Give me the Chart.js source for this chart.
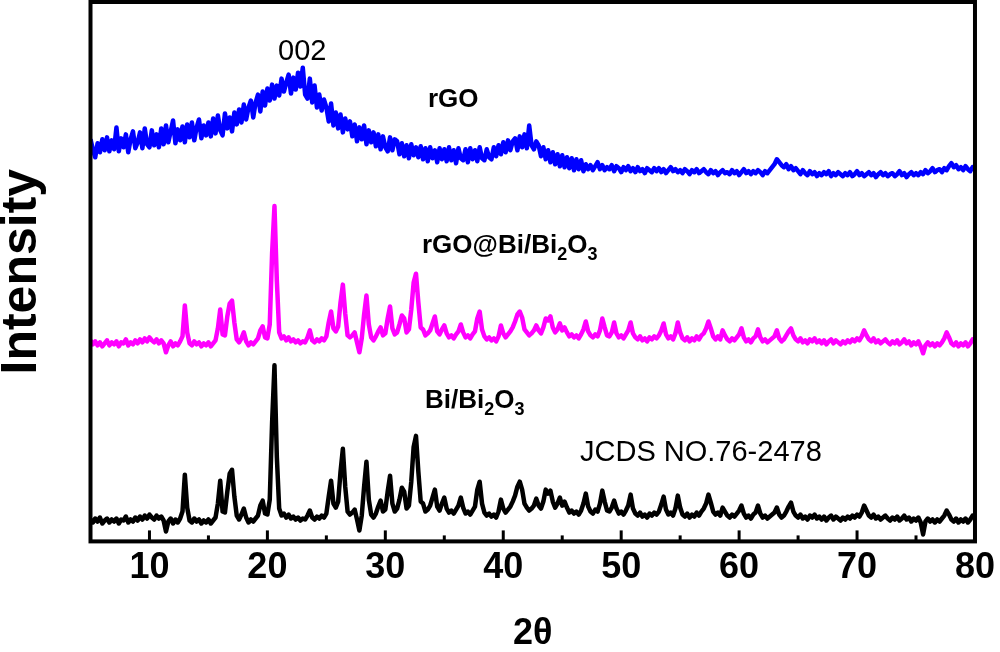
<!DOCTYPE html>
<html>
<head>
<meta charset="utf-8">
<script src="https://cdn.jsdelivr.net/npm/chart.js@4.4.1/dist/chart.umd.min.js"></script>
<style>
  html, body { margin: 0; padding: 0; background: #fff; }
  canvas { display: block; }
</style>
</head>
<body>
<canvas id="chart" width="1000" height="652"></canvas>
<script>
// scan grid: first 2theta and step (degrees)
var thetaStart = 5;
var thetaStep = 0.2;

var xTicks = [10, 20, 30, 40, 50, 60, 70, 80];
var xMinorTicks = [15, 25, 35, 45, 55, 65, 75];

// intensities (a.u., stacked offsets included), one value per 0.2 deg from 5 to 80
var rGO = [
  404,394,386,400,391,404,393,406,392,403,
  394,416,392,405,396,409,391,404,412,395,
  401,411,395,415,399,396,413,398,409,396,
  415,399,418,401,412,423,400,414,403,417,
  401,419,406,421,403,416,424,405,418,408,
  421,407,425,410,428,413,408,430,415,426,
  412,431,419,434,421,439,424,436,443,426,
  441,449,432,452,438,455,443,459,445,458,
  448,465,452,461,469,450,466,454,471,457,
  476,449,445,465,441,458,436,449,433,444,
  436,422,440,418,431,415,429,411,425,414,
  422,407,419,402,416,404,418,399,413,401,
  411,397,409,394,407,396,392,406,393,404,
  402,389,400,387,398,385,399,388,396,386,
  397,384,395,382,396,385,393,381,395,384,
  394,382,396,383,393,380,395,385,383,394,
  381,395,384,393,382,396,385,383,394,386,
  384,396,387,398,389,401,391,403,393,402,
  405,393,407,396,409,395,418,398,394,402,
  398,387,396,384,393,381,391,379,389,377,
  388,376,386,375,385,373,384,374,383,372,
  379,374,378,373,377,381,374,378,373,376,
  374,378,372,377,375,371,376,373,377,372,
  375,371,376,372,374,370,375,373,371,375,
  372,375,371,374,370,373,376,372,374,371,
  373,370,374,372,369,373,371,374,370,372,
  374,371,369,373,370,372,368,371,373,370,
  371,369,373,370,372,368,371,374,370,372,
  369,372,370,373,371,368,372,370,373,376,
  379,384,381,378,376,379,374,377,373,375,
  372,369,373,370,368,372,369,371,367,370,
  368,371,369,372,367,370,368,371,369,367,
  370,368,371,367,369,372,368,370,367,369,
  371,368,370,366,369,371,368,370,367,369,
  370,367,369,372,368,370,366,369,371,368,
  370,368,371,369,373,370,372,375,371,373,
  374,371,375,373,377,380,376,378,374,376,
  373,377,374,372,376,374
];

var rGOBi = [
  202,198,201,197,200,196,199,202,197,200,
  198,201,196,200,199,203,197,200,198,202,
  199,203,200,204,201,205,202,200,203,199,
  202,199,190,197,201,196,199,197,201,206,
  237,210,199,197,201,198,200,196,199,197,
  200,196,199,202,214,233,208,207,226,239,
  242,220,203,200,204,210,201,197,200,198,
  201,204,212,216,205,204,218,290,337,262,
  210,204,206,202,205,201,203,200,202,199,
  201,200,205,212,202,200,203,201,204,202,
  206,220,231,214,211,216,240,258,229,207,
  205,207,210,200,190,204,228,247,218,205,
  202,206,211,215,207,209,224,236,214,208,
  210,218,227,224,210,213,233,260,269,240,
  215,213,207,209,212,219,226,211,208,213,
  217,209,205,207,204,208,211,218,210,205,
  207,204,208,211,224,231,213,206,203,205,
  202,204,201,206,217,209,205,208,211,215,
  221,228,231,225,213,210,207,209,212,217,
  212,209,215,224,222,226,215,210,213,219,
  212,215,210,206,208,205,207,204,208,213,
  221,211,207,205,208,206,212,224,215,207,
  206,210,220,209,205,207,204,208,212,220,
  209,205,203,206,202,204,201,205,203,206,
  204,207,212,219,208,204,206,203,209,220,
  210,204,202,205,201,204,202,206,203,207,
  209,214,221,214,206,203,206,203,212,207,
  203,201,204,202,205,208,214,205,201,203,
  200,204,206,213,205,201,203,200,202,204,
  206,212,204,201,203,207,211,214,207,203,
  201,204,200,202,199,203,201,204,200,202,
  199,202,198,201,203,199,202,200,198,201,
  199,202,200,203,201,204,202,206,212,207,
  203,201,204,200,202,199,201,203,200,198,
  201,199,202,198,200,203,199,201,197,200,
  198,201,196,189,197,200,197,199,196,199,
  197,200,204,210,205,199,197,200,196,199,
  197,200,196,199,203,202
];

var BiBi2O3 = [
  22,19,23,20,24,18,21,23,19,22,
  20,23,18,22,21,25,19,22,20,24,
  21,25,22,26,23,27,24,22,26,23,
  25,21,10,20,23,18,22,19,23,30,
  67,34,21,19,23,20,22,18,21,19,
  22,18,21,24,38,61,30,29,50,68,
  72,45,26,22,27,33,24,19,22,20,
  23,26,36,41,28,27,42,120,177,85,
  33,26,28,24,27,23,25,22,24,21,
  23,22,26,31,24,22,25,23,26,24,
  28,45,61,38,34,40,70,93,55,30,
  27,29,32,22,11,26,55,80,42,27,
  24,28,35,41,30,32,50,66,38,30,
  33,42,54,50,33,36,60,95,106,70,
  40,38,30,32,36,44,52,35,31,38,
  44,33,29,31,28,32,36,44,34,28,
  30,27,31,35,52,60,38,29,26,28,
  25,27,24,30,42,33,29,32,35,40,
  46,55,60,52,38,34,31,33,36,43,
  36,33,40,52,48,51,40,34,38,44,
  36,40,34,29,31,28,30,27,31,38,
  48,35,30,28,32,30,38,51,40,31,
  30,34,41,33,28,30,27,31,36,47,
  33,28,26,29,25,27,24,28,26,29,
  27,30,37,45,32,27,29,26,33,46,
  34,27,25,28,24,27,25,29,26,30,
  33,38,47,39,30,27,29,26,34,30,
  26,24,27,25,28,31,36,28,24,26,
  23,27,29,36,28,24,26,23,25,27,
  29,34,27,24,26,30,35,39,30,26,
  24,27,23,25,22,26,24,27,23,25,
  22,25,21,24,26,22,25,23,21,24,
  22,25,23,26,24,27,25,29,36,31,
  26,24,27,23,25,22,24,26,23,21,
  24,22,25,21,23,26,22,24,20,23,
  21,24,19,7,20,23,20,22,19,22,
  20,23,26,31,27,22,20,23,19,22,
  20,23,19,22,26,25
];

function toPoints(vals) {
  return vals.map(function (v, i) {
    return { x: +(thetaStart + i * thetaStep).toFixed(1), y: v };
  });
}

// text with subscripts: parts = [[text, isSub], ...]
function drawFormula(ctx, parts, x, y, size) {
  parts.forEach(function (p) {
    var s = p[1] ? Math.round(size * 0.68) : size;
    ctx.font = 'bold ' + s + 'px "Liberation Sans", Arial, sans-serif';
    ctx.fillText(p[0], x, p[1] ? y + size * 0.28 : y);
    x += ctx.measureText(p[0]).width;
  });
}

var frame = {
  id: 'frame',
  afterDatasetsDraw: function (chart) {
    var ctx = chart.ctx, a = chart.chartArea, xs = chart.scales.x;
    ctx.save();
    ctx.strokeStyle = '#000';
    ctx.lineWidth = 3;
    xTicks.forEach(function (v) {
      var px = xs.getPixelForValue(v);
      ctx.beginPath(); ctx.moveTo(px, a.bottom); ctx.lineTo(px, a.bottom - 11); ctx.stroke();
    });
    xMinorTicks.forEach(function (v) {
      var px = xs.getPixelForValue(v);
      ctx.beginPath(); ctx.moveTo(px, a.bottom); ctx.lineTo(px, a.bottom - 6); ctx.stroke();
    });
    ctx.lineWidth = 4;
    ctx.strokeRect(a.left, a.top, a.right - a.left, a.bottom - a.top);

    ctx.fillStyle = '#000';
    ctx.textAlign = 'left';
    ctx.textBaseline = 'alphabetic';
    ctx.font = '29px "Liberation Sans", Arial, sans-serif';
    ctx.fillText('002', 278, 60);
    ctx.fillText('JCDS NO.76-2478', 580, 461);
    drawFormula(ctx, [['rGO', false]], 428, 107, 26);
    drawFormula(ctx, [['rGO@Bi/Bi', false], ['2', true], ['O', false], ['3', true]], 422, 253, 26);
    drawFormula(ctx, [['Bi/Bi', false], ['2', true], ['O', false], ['3', true]], 425, 408, 26);
    ctx.restore();
  }
};

var chart = new Chart('chart', {
  type: 'line',
  data: {
    datasets: [
      { label: 'rGO', data: toPoints(rGO), borderColor: '#0000ff' },
      { label: 'rGO@Bi/Bi2O3', data: toPoints(rGOBi), borderColor: '#ff00ff' },
      { label: 'Bi/Bi2O3', data: toPoints(BiBi2O3), borderColor: '#000000' }
    ]
  },
  options: {
    responsive: false,
    animation: false,
    parsing: false,
    elements: {
      point: { radius: 0 },
      line: { borderWidth: 4.5, tension: 0, borderJoinStyle: 'round' }
    },
    layout: { autoPadding: false, padding: { left: 0, right: 19, top: 2, bottom: 0 } },
    plugins: { legend: { display: false }, tooltip: { enabled: false } },
    scales: {
      x: {
        type: 'linear',
        min: 5,
        max: 80,
        afterBuildTicks: function (s) {
          s.ticks = xTicks.map(function (v) { return { value: v }; });
        },
        grid: { display: false, drawTicks: false },
        border: { display: false },
        ticks: {
          color: '#000',
          padding: 5,
          maxRotation: 0,
          font: { family: '"Liberation Sans", Arial, sans-serif', weight: 'bold', size: 36, lineHeight: 1.2 }
        },
        title: {
          display: true,
          text: '2θ',
          color: '#000',
          padding: { top: 21.4, bottom: 0 },
          font: { family: '"Liberation Sans", Arial, sans-serif', weight: 'bold', size: 36, lineHeight: 1.0 }
        }
      },
      y: {
        min: 0,
        max: 542,
        grid: { display: false, drawTicks: false },
        border: { display: false },
        ticks: { display: false },
        title: {
          display: true,
          text: 'Intensity',
          color: '#000',
          padding: { top: -3, bottom: 43.5 },
          font: { family: '"Liberation Sans", Arial, sans-serif', weight: 'bold', size: 50, lineHeight: 1.0 }
        }
      }
    }
  },
  plugins: [frame]
});
</script>
</body>
</html>
